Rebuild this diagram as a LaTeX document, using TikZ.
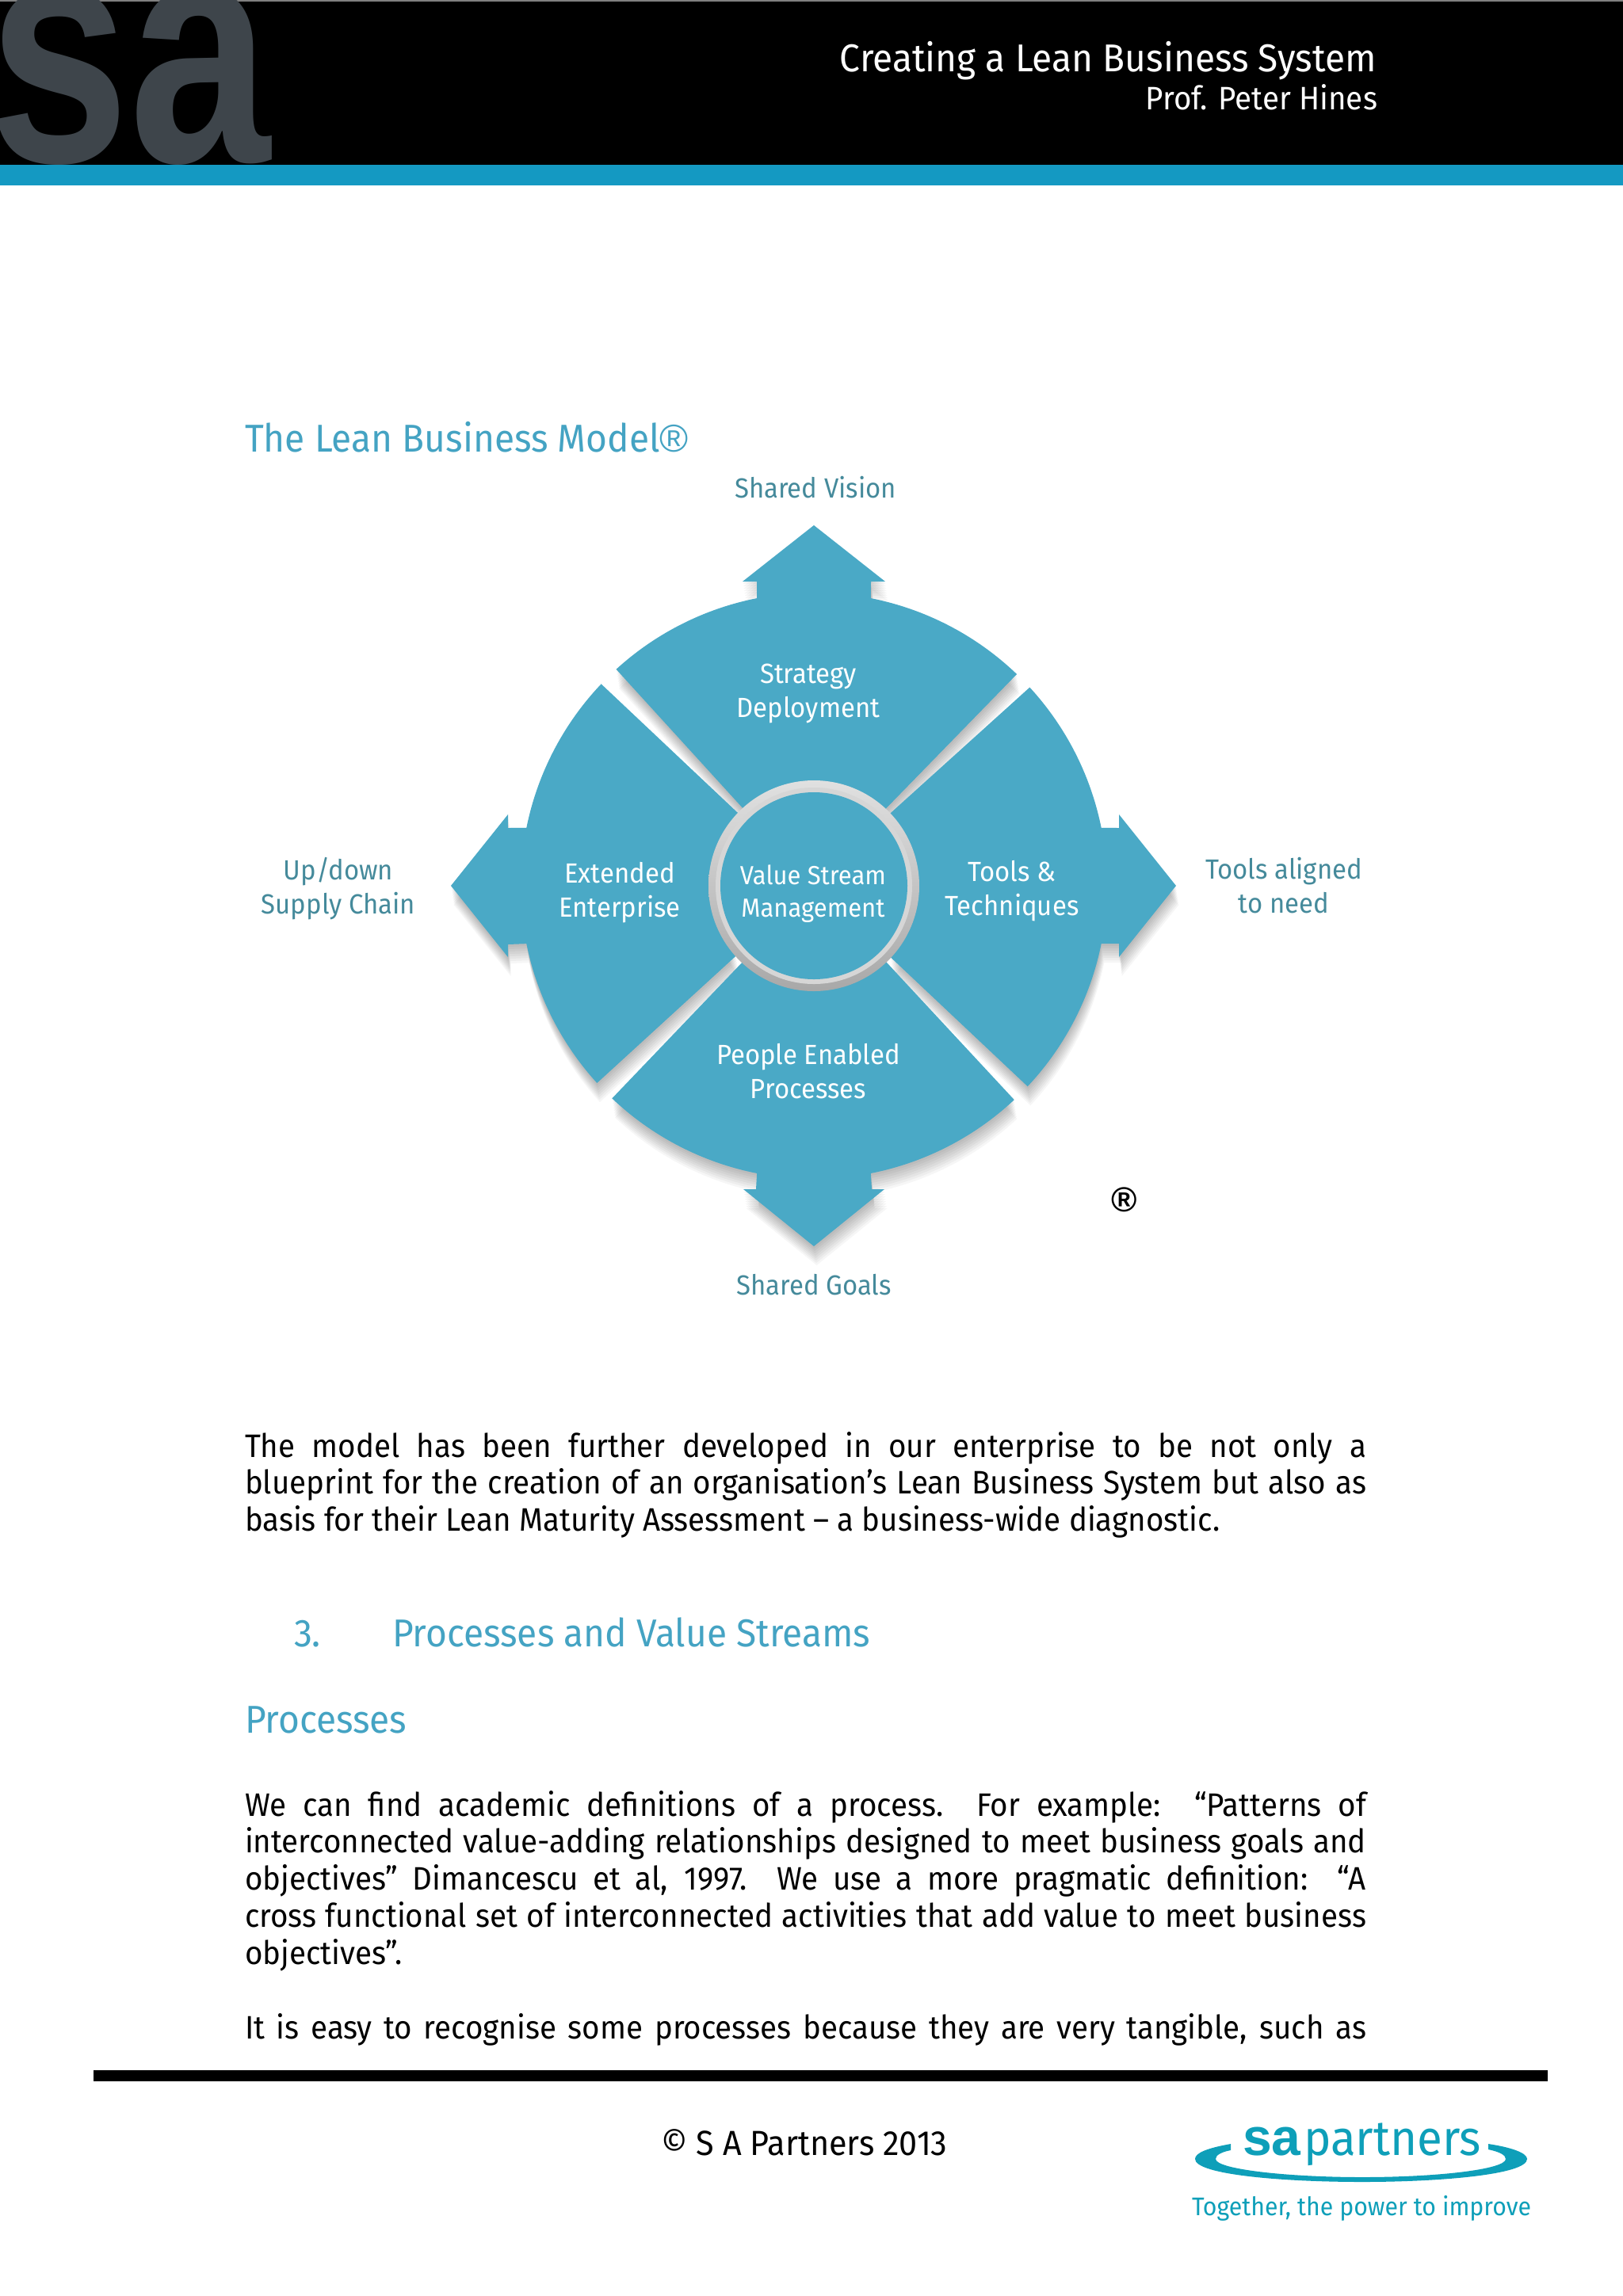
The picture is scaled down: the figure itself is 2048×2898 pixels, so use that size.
\documentclass[tikz,border=0pt]{standalone}
\usepackage{fontspec}
\setmainfont{Fira Sans}[FakeStretch=0.94]
\newfontfamily\arialfont{Liberation Sans}
\newfontfamily\bigsafont{Liberation Sans}[FakeStretch=0.78]
\usetikzlibrary{positioning, calc}
\definecolor{tealfill}{HTML}{4AA9C6}
\definecolor{titleblue}{HTML}{44A3C3}
\definecolor{labelteal}{HTML}{458A9B}
\definecolor{bandblue}{HTML}{1499C2}
\definecolor{logoteal}{HTML}{0E9FB9}
\definecolor{sagray}{HTML}{3E454B}
\newcommand{\bodyline}[1]{\makebox[707.5pt][s]{#1}}
\newcommand{\topseg}{(47:132) -- (46.2:370) arc[start angle=46.2, end angle=78.8, radius=370] -- (72,384) -- (90,384) -- (0,455) -- (-90,384) -- (-72,384) -- (101.2:370) arc[start angle=101.2, end angle=132.4, radius=370] -- (132.5:132) arc[start angle=132.5, end angle=47, radius=132] -- cycle}
\newcommand{\leftseg}{(136.2:132) -- (136.5:370) arc[start angle=136.5, end angle=168.6, radius=370] -- (-386,73) -- (-386,90) -- (-458,0) -- (-386,-90) -- (-386,-74) -- (191.4:370) arc[start angle=191.4, end angle=222.3, radius=370] -- (222:132) arc[start angle=222, end angle=136.2, radius=132] -- cycle}
\newcommand{\rightseg}{(-43:132) -- (-43.2:370) arc[start angle=-43.2, end angle=-11.4, radius=370] -- (385,-73) -- (385,-90) -- (457,0) -- (385,90) -- (385,73) -- (11.4:370) arc[start angle=11.4, end angle=42.6, radius=370] -- (43.5:132) arc[start angle=43.5, end angle=-43, radius=132] -- cycle}
\newcommand{\botseg}{(226.9:132) -- (226.5:370) arc[start angle=226.5, end angle=258.8, radius=370] -- (-73,-383) -- (-89,-383) -- (0,-455) -- (89,-383) -- (73,-383) -- (281.2:370) arc[start angle=281.2, end angle=313.1, radius=370] -- (313.5:132) arc[start angle=313.5, end angle=226.9, radius=132] -- cycle}

\begin{document}
\begin{tikzpicture}[
    x=0.5pt, y=0.5pt,
    inner sep=0pt, outer sep=0pt,
    seglabel/.style={align=center, text=white, font=\fontsize{17.5}{21.5}\selectfont},
    sidelabel/.style={align=center, text=labelteal, font=\fontsize{17.5}{21.5}\selectfont},
    heading/.style={anchor=base west, text=titleblue, font=\fontsize{24.5}{28}\selectfont},
    bodytext/.style={anchor=north west, align=left, text=black, font=\fontsize{20.5}{23.4}\selectfont},
    segfill/.style={fill=tealfill}
]
\useasboundingbox (0,0) rectangle (2048,-2898);
\fill[white] (0,0) rectangle (2048,-2898);

% Header band
\fill[black] (0,0) rectangle (2048,-208);
\fill[bandblue] (0,-208) rectangle (2048,-234);
\fill[gray] (0,0) rectangle (2048,-2);
\begin{scope}
\clip (0,0) rectangle (2048,-210);
\node[anchor=base west, text=sagray, font=\bigsafont\bfseries\fontsize{205}{205}\selectfont] (bigsa) at (-14,-204) {sa};
\end{scope}
\node[anchor=base east, text=white, font=\fontsize{24.5}{26}\selectfont] (headtitle) at (1737,-90) {Creating a Lean Business System};
\node[anchor=base east, text=white, font=\fontsize{20.5}{24}\selectfont] (headname) at (1738,-138) {Prof. Peter Hines};

\node[heading] (modeltitle) at (309,-570) {The Lean Business Model{\arialfont ®}};

% Model shapes
\begin{scope}[shift={(1027,-1118)}]
\foreach \off in {24,21,18,15,12,9,6,3}{
  \fill[black, opacity=0.035, shift={(\off*0.15,-\off)}] \topseg;
  \fill[black, opacity=0.035, shift={(\off*0.15,-\off)}] \leftseg;
  \fill[black, opacity=0.035, shift={(\off*0.15,-\off)}] \rightseg;
  \fill[black, opacity=0.035, shift={(\off*0.15,-\off)}] \botseg;
}
\fill[segfill] \topseg;
\fill[segfill] \leftseg;
\fill[segfill] \rightseg;
\fill[segfill] \botseg;
\shade[top color=black!12, bottom color=black!34] (0,0) circle[radius=133];
\fill[black!16] (0,0) circle[radius=124];
\fill[segfill] (0,0) circle[radius=118];
\end{scope}

% Model labels
\node[sidelabel] (sharedvision) at (1029,-615) {Shared Vision};
\node[seglabel] (strategy) at (1020,-875) {Strategy\\Deployment};
\node[seglabel] (extended) at (782,-1127) {Extended\\Enterprise};
\node[seglabel, font=\fontsize{16.5}{20.5}\selectfont] (valuestream) at (1026,-1128) {Value Stream\\Management};
\node[seglabel] (tools) at (1277,-1125) {Tools \&\\Techniques};
\node[seglabel] (people) at (1020,-1352) {People Enabled\\Processes};
\node[sidelabel] (supply) at (427,-1122) {Up/down\\Supply Chain};
\node[sidelabel] (toolsneed) at (1620,-1118) {Tools aligned\\to need};
\node[sidelabel] (sharedgoals) at (1027,-1622) {Shared Goals};
\node[font=\arialfont\bfseries\fontsize{22}{24}\selectfont] (regmark) at (1419,-1514) {®};

% Text blocks
\node[bodytext] (paraone) at (309,-1807) {\bodyline{The model has been further developed in our enterprise to be not only a}\\
\bodyline{blueprint for the creation of an organisation’s Lean Business System but also as}\\
basis for their Lean Maturity Assessment – a business-wide diagnostic.};
\node[heading] (secnum) at (371,-2078) {3.};
\node[heading] (sectitle) at (495,-2078) {Processes and Value Streams};
\node[heading] (subtitle) at (309,-2187) {Processes};
\node[bodytext] (paratwo) at (309,-2260) {\bodyline{We can find academic definitions of a process.\ \ For example:\ \ “Patterns of}\\
\bodyline{interconnected value-adding relationships designed to meet business goals and}\\
\bodyline{objectives” Dimancescu et al, 1997.\ \ We use a more pragmatic definition:\ \ “A}\\
\bodyline{cross functional set of interconnected activities that add value to meet business}\\
objectives”.};
\node[bodytext] (parathree) at (309,-2541) {\bodyline{It is easy to recognise some processes because they are very tangible, such as}};

% Footer
\fill[black] (118,-2613) rectangle (1953,-2627);
\node[font=\fontsize{22}{24}\selectfont] (copyright) at (1015,-2704) {© S A Partners 2013};
\fill[logoteal] (1553,-2706) .. controls (1525,-2711) and (1508,-2717) .. (1508,-2725) .. controls (1508,-2745) and (1620,-2754) .. (1719,-2754) .. controls (1815,-2754) and (1927,-2745) .. (1927,-2725) .. controls (1927,-2717) and (1905,-2710) .. (1878,-2706) -- (1878,-2713) .. controls (1892,-2716) and (1900,-2720) .. (1900,-2725) .. controls (1900,-2738) and (1815,-2748) .. (1719,-2748) .. controls (1625,-2748) and (1534,-2738) .. (1534,-2725) .. controls (1534,-2720) and (1542,-2716) .. (1553,-2714) -- cycle;
\node[anchor=base west, text=logoteal, font=\arialfont\bfseries\fontsize{33}{36}\selectfont] (logosa) at (1568,-2720) {sa};
\node[anchor=base west, text=logoteal, font=\fontsize{31}{36}\selectfont] (logopartners) at (1645,-2720) {partners};
\node[anchor=base west, text=logoteal, font=\fontsize{16.1}{20}\selectfont] (logotag) at (1504,-2796) {Together, the power to improve};
\end{tikzpicture}
\end{document}
